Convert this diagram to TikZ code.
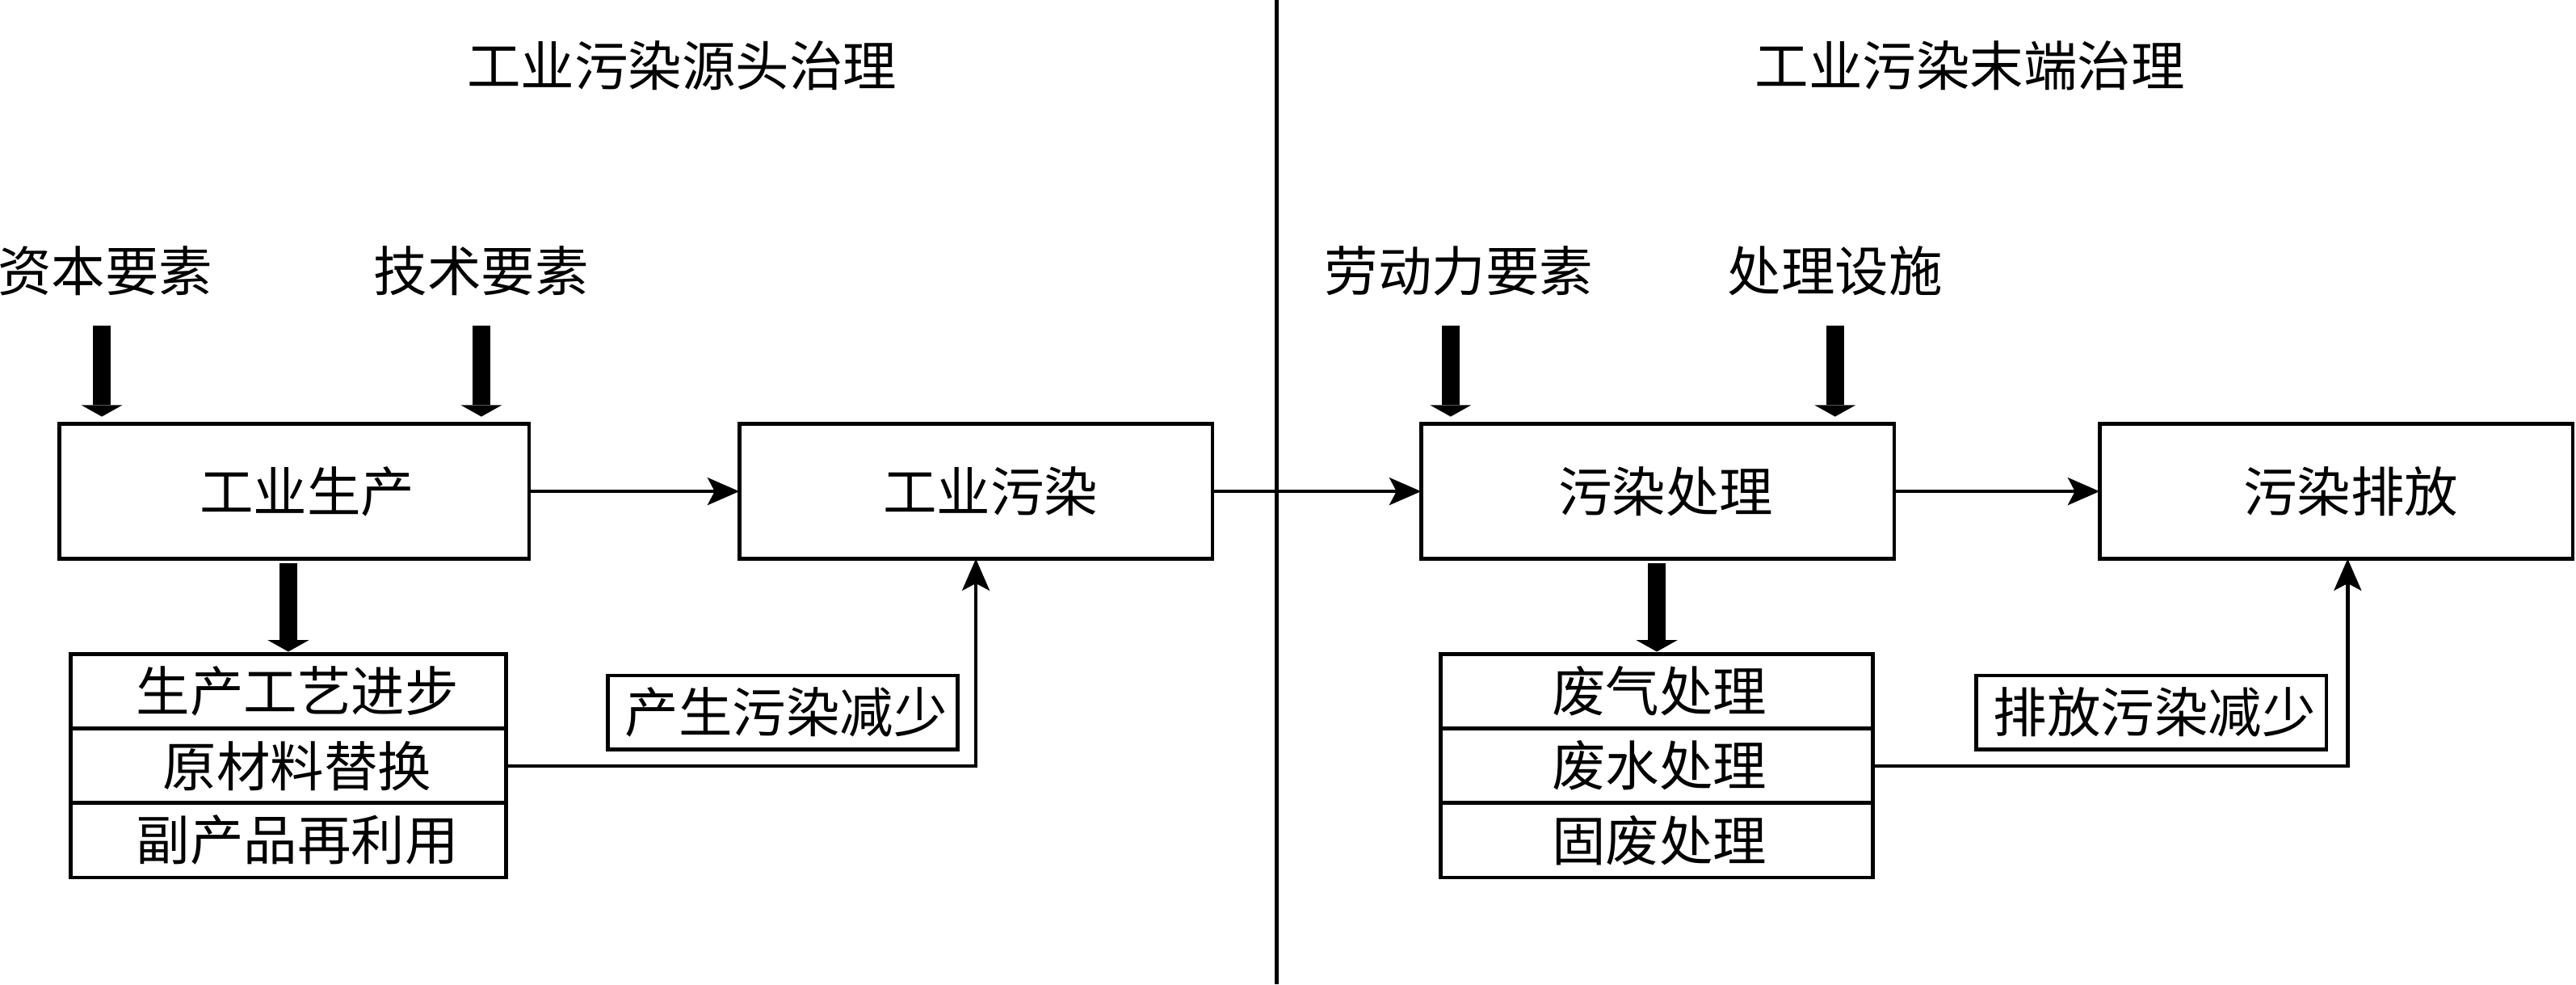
\documentclass[tikz,border=0pt]{standalone}
\usepackage{fontspec}
\setmainfont{Noto Sans CJK SC}
\usetikzlibrary{arrows.meta}
\begin{document}
\begin{tikzpicture}[x=1pt,y=-1pt,
  every node/.style={font=\fontsize{32.7pt}{39pt}\selectfont, inner sep=0pt, outer sep=0pt},
  box/.style={draw, line width=2.3pt, minimum width=288pt, minimum height=82pt},
  listrow/.style={draw, line width=2.3pt, minimum width=265pt, minimum height=45.33pt},
  tag/.style={draw, line width=2.3pt, minimum width=213pt, minimum height=45pt},
  fat/.style={line width=10.8pt, -{Triangle[width=25pt,length=7pt,line width=0pt]}},
  thinarrow/.style={line width=2.2pt, -{Stealth[length=19.5pt,width=17pt,inset=4.5pt,line width=0pt]}},
  plainline/.style={line width=2.2pt}]
\useasboundingbox (0,0) rectangle (1568,599);

% titles
\node (t1) at (415,40) {工业污染源头治理};
\node (t2) at (1199,40) {工业污染末端治理};

% divider
\coordinate (dtop) at (777,0);
\coordinate (dbot) at (777,599);
\draw[plainline] (dtop) -- (dbot);

% input labels
\node (ka) at (64,165) {资本要素};
\node (kb) at (293,165) {技术要素};
\node (kc) at (888,165) {劳动力要素};
\node (kd) at (1117,165) {处理设施};

% main boxes
\node[box, minimum width=286pt] (b1) at (179,299) {\hspace*{16pt}工业生产};
\node[box] (b2) at (594,299) {\hspace*{18pt}工业污染};
\node[box] (b3) at (1009,299) {\hspace*{10pt}污染处理};
\node[box] (b4) at (1422,299) {\hspace*{18pt}污染排放};

% left list
\node[listrow] (l1) at (175.5,420.7) {\hspace*{11pt}生产工艺进步};
\node[listrow] (l2) at (175.5,466) {\hspace*{11pt}原材料替换};
\node[listrow] (l3) at (175.5,511.3) {\hspace*{11pt}副产品再利用};

% right list
\node[listrow, minimum width=263pt] (r1) at (1008.5,420.7) {\hspace*{3pt}废气处理};
\node[listrow, minimum width=263pt] (r2) at (1008.5,466) {\hspace*{3pt}废水处理};
\node[listrow, minimum width=263pt] (r3) at (1008.5,511.3) {\hspace*{3pt}固废处理};

% tags
\node[tag] (g1) at (476.5,433.5) {\hspace*{4pt}产生污染减少};
\node[tag] (g2) at (1309.5,433.5) {\hspace*{4pt}排放污染减少};

% fat input arrows
\coordinate (fa) at (62,198);
\coordinate (fb) at (293,198);
\coordinate (fc) at (883,198);
\coordinate (fd) at (1117,198);
\draw[fat, shorten >=4.5pt] (fa) -- (fa |- b1.north);
\draw[fat, shorten >=4.5pt] (fb) -- (fb |- b1.north);
\draw[fat, shorten >=4.5pt] (fc) -- (fc |- b3.north);
\draw[fat, shorten >=4.5pt] (fd) -- (fd |- b3.north);

% fat down arrows
\draw[fat, shorten <=2.5pt, shorten >=1.5pt] (l1.north |- b1.south) -- (l1.north);
\draw[fat, shorten <=2.5pt, shorten >=1.5pt] (r1.north |- b3.south) -- (r1.north);

% flow arrows
\draw[thinarrow] (b1) -- (b2);
\draw[thinarrow] (b2) -- (b3);
\draw[thinarrow] (b3) -- (b4);

% feedback arrows
\draw[thinarrow] (l2.east) -| (b2.south);
\draw[thinarrow] (r2.east) -| ([xshift=7pt]b4.south);
\end{tikzpicture}
\end{document}
